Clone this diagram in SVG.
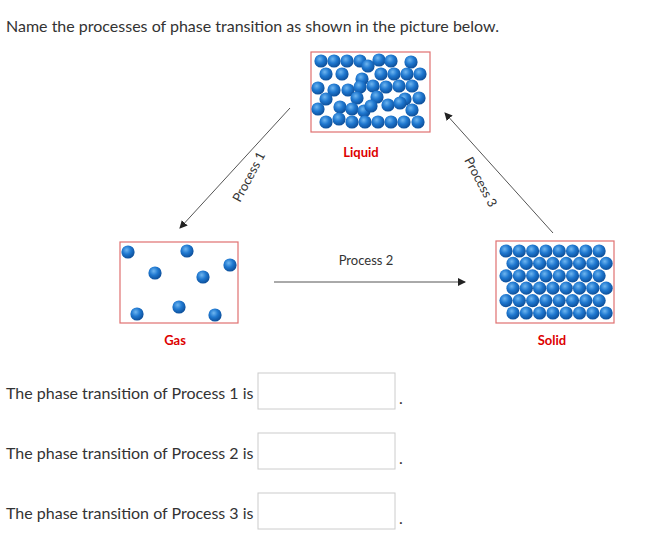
<svg xmlns="http://www.w3.org/2000/svg" xmlns:xlink="http://www.w3.org/1999/xlink" width="661" height="557" viewBox="0 0 661 557">
<style>
text{font-family:Lato,"Liberation Sans",sans-serif;fill:#333}
.lbl{font-size:13px;font-weight:bold;fill:#d00}
.q{font-size:16px}
.frame{fill:#fff;stroke:#e07070;stroke-width:1.2}
.in{fill:#fff;stroke:#ccc;stroke-width:1}
.ln{stroke:#555;stroke-width:1;fill:none;marker-end:url(#ah)}
</style>
<defs>
<radialGradient id="bg" cx="0.4" cy="0.35" r="0.65"><stop offset="0" stop-color="#6fb6f0"/><stop offset="0.5" stop-color="#1f78d0"/><stop offset="1" stop-color="#0d4f9a"/></radialGradient>
<circle id="b" r="6.6" fill="url(#bg)"/>
<marker id="ah" markerWidth="8" markerHeight="8" refX="7" refY="4" orient="auto" markerUnits="userSpaceOnUse"><path d="M0,0 L8,4 L0,8 z" fill="#222"/></marker>
</defs>
<rect width="661" height="557" fill="#fff"/>
<text x="6" y="32" class="q">Name the processes of phase transition as shown in the picture below.</text>
<g id="liquid">
<rect class="frame" x="311" y="52" width="119" height="80"/>
<g>
<use href="#b" x="321" y="61"/><use href="#b" x="334" y="61"/><use href="#b" x="347" y="61"/><use href="#b" x="360" y="61"/><use href="#b" x="379" y="60"/><use href="#b" x="391" y="61"/><use href="#b" x="411" y="62"/><use href="#b" x="368" y="66"/>
<use href="#b" x="326" y="74"/><use href="#b" x="342" y="74"/><use href="#b" x="381" y="74"/><use href="#b" x="394" y="74"/><use href="#b" x="407" y="74"/><use href="#b" x="420" y="74"/><use href="#b" x="362" y="79"/>
<use href="#b" x="318" y="88"/><use href="#b" x="334" y="90"/><use href="#b" x="348" y="90"/><use href="#b" x="360" y="87"/><use href="#b" x="373" y="86"/><use href="#b" x="386" y="87"/><use href="#b" x="399" y="86"/><use href="#b" x="412" y="86"/>
<use href="#b" x="326" y="99"/><use href="#b" x="357" y="98"/><use href="#b" x="377" y="97"/><use href="#b" x="405" y="99"/><use href="#b" x="419" y="98"/>
<use href="#b" x="318" y="109"/><use href="#b" x="340" y="107"/><use href="#b" x="352" y="109"/><use href="#b" x="364" y="111"/><use href="#b" x="371" y="106"/><use href="#b" x="388" y="105"/><use href="#b" x="400" y="103"/><use href="#b" x="412" y="110"/>
<use href="#b" x="326" y="122"/><use href="#b" x="339" y="119"/><use href="#b" x="352" y="122"/><use href="#b" x="365" y="122"/><use href="#b" x="378" y="122"/><use href="#b" x="391" y="122"/><use href="#b" x="404" y="122"/><use href="#b" x="418" y="122"/>
</g>
<text x="361" y="157" class="lbl" text-anchor="middle">Liquid</text>
</g>
<g id="gas">
<rect class="frame" x="120" y="242" width="118" height="81"/>
<use href="#b" x="128" y="252"/><use href="#b" x="187" y="251"/><use href="#b" x="230" y="265"/><use href="#b" x="155" y="273"/><use href="#b" x="203" y="277"/><use href="#b" x="179" y="307"/><use href="#b" x="137" y="314"/><use href="#b" x="215" y="315"/>
<text x="175" y="345" class="lbl" text-anchor="middle">Gas</text>
</g>
<g id="solid">
<rect class="frame" x="496" y="241" width="118" height="82"/>
<g id="r1"><use href="#b" x="506" y="251"/><use href="#b" x="519.3" y="251"/><use href="#b" x="532.6" y="251"/><use href="#b" x="545.9" y="251"/><use href="#b" x="559.2" y="251"/><use href="#b" x="572.5" y="251"/><use href="#b" x="585.8" y="251"/><use href="#b" x="599.1" y="251"/></g>
<use href="#r1" x="7" y="12.4"/><use href="#r1" x="0" y="24.8"/><use href="#r1" x="7" y="37.2"/><use href="#r1" x="0" y="49.6"/><use href="#r1" x="7" y="62"/>
<text x="552" y="345" class="lbl" text-anchor="middle">Solid</text>
</g>
<g id="connectors">
<line class="ln" x1="290" y1="108" x2="180" y2="228"/>
<line class="ln" x1="274" y1="282" x2="465" y2="282"/>
<line class="ln" x1="553" y1="233" x2="445" y2="113"/>
<text x="0" y="0" font-size="13" transform="translate(240,203) rotate(-62)">Process 1</text>
<text x="366" y="265" font-size="13" text-anchor="middle">Process 2</text>
<text x="0" y="0" font-size="13" transform="translate(464,160) rotate(62)">Process 3</text>
</g>
<g id="q1"><text x="6" y="399" class="q">The phase transition of Process 1 is</text><rect class="in" x="258" y="373" width="137" height="36"/><text x="399" y="404" class="q">.</text></g>
<g id="q2"><text x="6" y="459" class="q">The phase transition of Process 2 is</text><rect class="in" x="258" y="433" width="137" height="36"/><text x="399" y="464" class="q">.</text></g>
<g id="q3"><text x="6" y="519" class="q">The phase transition of Process 3 is</text><rect class="in" x="258" y="493" width="137" height="36"/><text x="399" y="524" class="q">.</text></g>
</svg>
